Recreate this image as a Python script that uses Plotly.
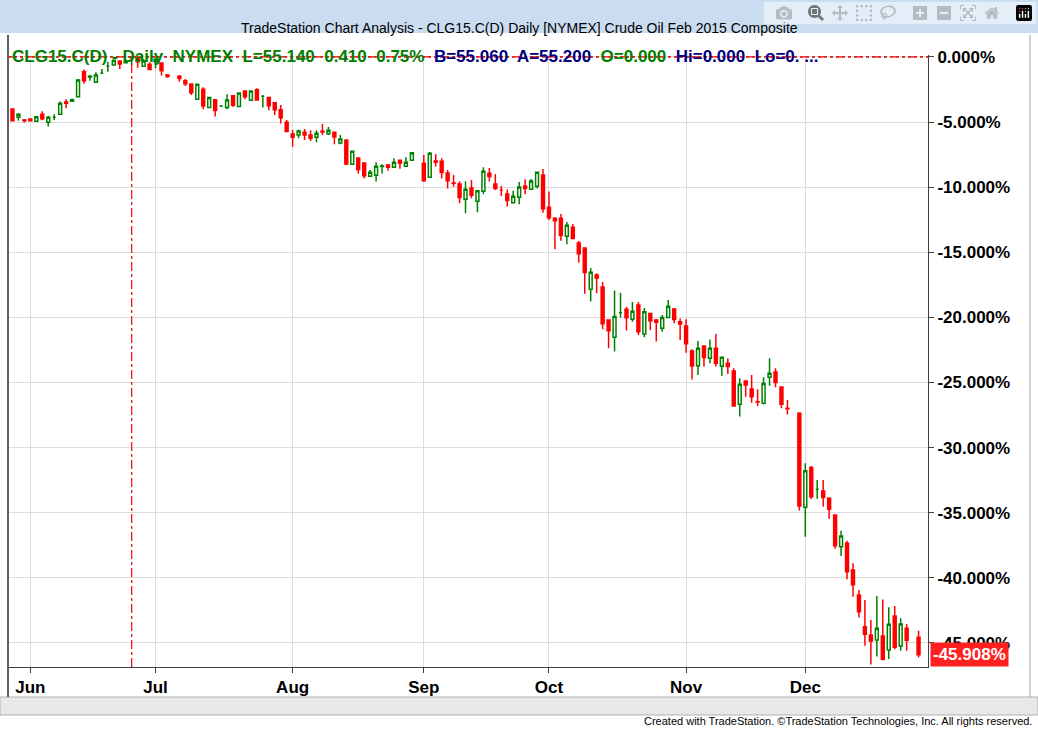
import pandas as pd
import plotly.graph_objects as go

# ---- data (percent change from reference) ----
opens = [-4.0,-4.63,-4.85,-4.76,-4.94,-4.4,-5.02,-4.63,-4.4,-3.46,-3.4,-3.05,-1.13,-1.54,-1.95,-1.25,-0.69,-0.61,-0.31,-0.44,-0.05,-0.1,-0.72,-0.56,-0.36,-0.46,-1.38,
         -1.48,-1.82,-2.07,-3.25,-2.48,-3.89,-3.28,-3.76,-3.89,-2.97,-3.81,-2.61,-3.33,-2.51,-3.02,-3.12,-3.51,-4.05,-5.02,
         -5.91,-5.99,-5.79,-5.99,-6.17,-5.71,-5.89,-5.79,-6.6,-6.4,-8.24,-7.76,-8.14,-9.17,-9.09,-8.42,-8.3,-8.47,-7.94,-8.4,-7.94,
         -8.17,-9.24,-8.0,-8.01,-8.91,-9.68,-9.76,-10.93,-10.06,-11.08,-10.32,-8.93,-9.76,-10.24,-10.53,-11.19,-10.78,-9.91,-10.16,-9.93,-9.07,
         -11.55,-12.39,-12.39,-13.77,-13.08,-14.29,-14.67,-17.84,-16.74,-17.67,-20.2,-21.53,-19.64,-19.38,-20.15,-19.05,-21.27,-19.71,-20.2,-20.84,-20.0,-19.35,-20.33,
         -20.66,-22.58,-23.71,-22.2,-23.14,-22.38,-23.76,-23.53,-24.11,-26.68,-24.88,-25.5,-26.47,-26.6,-24.6,-24.19,-25.35,-26.98,-27.37,
         -34.59,-31.52,-33.2,-33.33,-33.89,-35.18,-37.61,-37.35,-39.4,-41.32,-43.75,-44.39,-44.78,-44.47,-45.54,-42.93,-45.24,-43.88,-44.57]
highs = [-4.0,-4.33,-4.76,-4.76,-4.53,-4.17,-4.53,-4.4,-3.43,-3.25,-3.2,-1.69,-0.97,-1.38,-1.18,-0.92,-0.36,-0.23,-0.31,-0.23,0.0,-0.05,-0.15,-0.41,-0.1,-0.41,-1.31,
         -1.38,-1.69,-2.02,-2.1,-2.33,-3.12,-3.28,-3.69,-2.87,-2.97,-2.71,-2.56,-2.56,-2.41,-2.92,-3.05,-3.51,-3.69,-4.84,
         -5.61,-5.58,-5.53,-5.63,-5.63,-5.15,-5.38,-5.73,-6.0,-6.3,-7.25,-7.76,-8.14,-8.68,-8.09,-8.24,-8.22,-7.78,-7.91,-7.71,-7.35,
         -7.53,-7.3,-7.45,-7.78,-8.68,-9.06,-9.55,-9.55,-9.45,-10.27,-8.47,-8.53,-9.0,-9.91,-10.17,-10.27,-9.6,-9.4,-9.37,-8.86,-8.6,
         -10.34,-12.31,-12.06,-12.67,-12.83,-14.13,-14.67,-16.21,-16.62,-17.28,-20.2,-17.94,-18.1,-19.18,-18.82,-18.82,-19.28,-19.64,-20.12,-19.82,-18.66,-19.28,-20.08,
         -20.15,-22.45,-21.81,-22.2,-21.69,-21.27,-23.07,-23.14,-23.91,-24.68,-24.88,-24.42,-25.52,-24.6,-23.14,-23.91,-25.35,-26.34,-27.29,
         -31.21,-31.41,-32.49,-32.49,-33.82,-35.18,-36.38,-37.15,-38.89,-40.94,-41.71,-43.24,-41.4,-41.66,-42.27,-42.17,-43.11,-43.55,-44.06]
lows = [-4.9,-4.9,-5.04,-4.9,-4.94,-4.87,-5.35,-4.84,-4.4,-3.94,-3.43,-3.05,-2.05,-1.82,-1.95,-1.25,-1.13,-0.61,-0.92,-0.49,-0.61,-0.82,-0.72,-1.02,-0.87,-1.43,-1.59,
        -1.9,-2.23,-2.92,-3.25,-4.02,-3.94,-4.58,-3.84,-4.02,-3.84,-3.81,-3.25,-3.33,-3.3,-3.89,-4.1,-4.45,-5.12,-5.73,
        -6.89,-6.25,-6.38,-6.45,-6.56,-5.99,-5.99,-6.71,-6.7,-8.3,-8.24,-8.96,-9.34,-9.17,-9.57,-8.96,-8.73,-8.47,-8.58,-8.4,-7.94,
        -9.58,-9.24,-8.42,-9.34,-10.11,-9.96,-11.24,-12.0,-10.86,-11.93,-10.55,-9.57,-10.22,-10.68,-11.49,-11.24,-11.32,-10.55,-10.16,-10.11,-11.96,
        -12.52,-14.77,-14.11,-14.39,-13.95,-15.8,-18.18,-18.79,-18.15,-20.92,-22.38,-22.63,-20.0,-21.0,-20.33,-21.35,-21.53,-20.97,-21.86,-21.1,-20.0,-20.46,-21.74,
        -22.71,-24.78,-24.42,-23.78,-23.53,-23.78,-24.5,-24.35,-26.86,-27.62,-26.09,-26.55,-26.81,-26.68,-25.25,-25.37,-26.98,-27.45,-34.84,
        -36.84,-33.95,-33.92,-34.54,-35.46,-37.77,-38.33,-40.11,-41.45,-43.04,-45.21,-46.65,-46.04,-46.36,-46.24,-45.49,-45.6,-45.6,-46.13]
closes = [-4.9,-4.4,-4.9,-4.9,-4.6,-4.74,-4.63,-4.63,-3.56,-3.56,-3.28,-1.77,-1.82,-1.48,-1.38,-1.25,-0.69,-0.26,-0.54,-0.36,0.0,-0.36,-0.31,-0.97,-0.18,-1.05,-1.51,
          -1.66,-2.05,-2.74,-2.1,-3.76,-3.12,-4.12,-3.76,-3.3,-3.71,-2.76,-3.05,-2.61,-3.3,-3.02,-3.74,-4.05,-4.66,-5.73,
          -6.17,-5.68,-5.99,-6.25,-5.86,-5.76,-5.63,-6.14,-6.3,-8.22,-7.25,-8.65,-9.12,-8.86,-8.4,-8.37,-8.47,-8.09,-8.17,-8.09,-7.35,
          -9.5,-7.4,-8.09,-8.88,-9.5,-9.7,-10.8,-10.16,-10.63,-10.27,-8.78,-9.19,-10.11,-10.24,-11.03,-10.7,-9.99,-10.11,-9.53,-8.86,-11.65,
          -12.34,-12.57,-13.72,-12.93,-13.95,-15.11,-16.56,-16.54,-16.97,-20.48,-21.02,-19.94,-19.64,-20.02,-19.53,-21.1,-19.56,-20.25,-20.38,-20.0,-19.15,-20.17,-20.5,
          -22.02,-23.73,-22.38,-23.09,-22.38,-23.53,-23.07,-23.78,-26.81,-25.14,-25.19,-26.09,-26.5,-25.07,-24.29,-25.01,-26.68,-27.01,-34.49,
          -31.77,-33.77,-33.2,-33.84,-34.74,-37.53,-36.79,-39.53,-40.53,-42.6,-44.34,-44.85,-43.88,-46.26,-43.57,-45.34,-43.55,-44.8,-45.908]
holidays = ["2014-07-04", "2014-09-01", "2014-11-27", "2014-12-25"]
month_ticks = ["2014-06-02", "2014-07-01", "2014-08-01", "2014-09-02", "2014-10-01", "2014-11-03", "2014-12-01"]
month_labels = ["Jun", "Jul", "Aug", "Sep", "Oct", "Nov", "Dec"]
y_ticks = [0, -5, -10, -15, -20, -25, -30, -35, -40, -45]

days = [d for d in pd.bdate_range("2014-05-28", "2014-12-31").strftime("%Y-%m-%d") if d not in holidays]
dates = days[:len(closes)]

fig = go.Figure(go.Candlestick(
    x=dates, open=opens, high=highs, low=lows, close=closes,
    increasing=dict(line=dict(color="#008000", width=1.5), fillcolor="white"),
    decreasing=dict(line=dict(color="#ff0000", width=1.5), fillcolor="#ff0000"),
    whiskerwidth=0, showlegend=False, hoverinfo="skip"))

W, H = 1038, 736
L, R, T, B = 8, 110, 55, 69
pw, ph = W - L - R, H - T - B
def px(x): return (x - L) / pw
def py(y): return (H - B - y) / ph

shapes = [
    dict(type="rect", xref="paper", yref="paper", x0=px(0), x1=px(W), y0=py(33), y1=py(0),
         fillcolor="#c9dcf0", line_width=0, layer="below"),
    dict(type="rect", xref="paper", yref="paper", x0=px(0), x1=px(W), y0=py(715), y1=py(697),
         fillcolor="#e8e8e8", line=dict(color="#b0b0b0", width=1)),
    dict(type="line", xref="paper", yref="paper", x0=px(8), x1=px(928), y0=py(57), y1=py(57),
         line=dict(color="#404040", width=1, dash="dot")),
    dict(type="line", xref="x", yref="paper", x0="2014-06-25", x1="2014-06-25", y0=0, y1=1,
         line=dict(color="#ff0000", width=1.2, dash="dashdot")),
    dict(type="line", xref="paper", yref="y", x0=0, x1=1, y0=0, y1=0,
         line=dict(color="#ff0000", width=1.2, dash="dashdot")),
    dict(type="line", xref="paper", yref="paper", x0=0, x1=0, y0=py(697), y1=py(35),
         line=dict(color="#606060", width=2)),
    dict(type="line", xref="paper", yref="paper", x0=px(1030), x1=px(1030), y0=py(697), y1=py(35),
         line=dict(color="#a0a0a0", width=1)),
]

hdr = ('<span style="color:#008000">CLG15.C(D) - Daily  NYMEX  L=55.140  0.410  0.75%</span>'
       '  <span style="color:#000080">B=55.060  A=55.200</span>'
       '  <span style="color:#008000">O=0.000</span>'
       '  <span style="color:#000080">Hi=0.000  Lo=0. ...</span>')

annotations = [
    dict(xref="paper", yref="paper", x=px(519), y=py(18), text="TradeStation Chart Analysis - CLG15.C(D) Daily [NYMEX] Crude Oil Feb 2015 Composite",
         showarrow=False, font=dict(family="Liberation Sans", size=14, color="#000000")),
    dict(xref="paper", yref="paper", x=px(10), y=py(45), xanchor="left", text="<b>" + hdr + "</b>",
         showarrow=False, font=dict(family="Liberation Sans", size=17)),
    dict(xref="paper", yref="y", x=px(930), y=closes[-1], xanchor="left", text="<b>-45.908%</b>",
         showarrow=False, bgcolor="#ff2020", font=dict(family="Liberation Sans", size=17, color="white"),
         borderpad=2),
    dict(xref="paper", yref="paper", x=px(1034), y=py(729), xanchor="right",
         text="Created with TradeStation. ©TradeStation Technologies, Inc. All rights reserved.",
         showarrow=False, font=dict(family="Liberation Sans", size=11, color="#000000")),
]

fig.update_layout(
    width=W, height=H, margin=dict(l=L, r=R, t=T, b=B),
    paper_bgcolor="white", plot_bgcolor="white",
    shapes=shapes, annotations=annotations,
    xaxis=dict(range=["2014-05-27 06:00", "2014-12-29 14:00"], rangeslider=dict(visible=False),
               rangebreaks=[dict(bounds=["sat", "mon"])],
               tickvals=month_ticks, ticktext=["<b>%s</b>" % m for m in month_labels],
               showgrid=True, gridcolor="#dcdcdc", gridwidth=1,
               showline=True, linecolor="#404040", linewidth=1,
               ticks="outside", ticklen=5, tickcolor="#404040",
               tickfont=dict(family="Liberation Sans", size=17, color="#000000")),
    yaxis=dict(range=[-46.85, 0.15], side="right", tickvals=y_ticks,
               ticktext=["<b>%.3f%%</b>" % v for v in y_ticks],
               showgrid=True, gridcolor="#dcdcdc", gridwidth=1, zeroline=False,
               showline=True, linecolor="#404040", ticks="outside", ticklen=5, tickcolor="#404040",
               tickfont=dict(family="Liberation Sans", size=17, color="#000000")),
)
fig.write_html("out.html", post_script="document.body.style.margin='0';document.body.style.padding='0';")
